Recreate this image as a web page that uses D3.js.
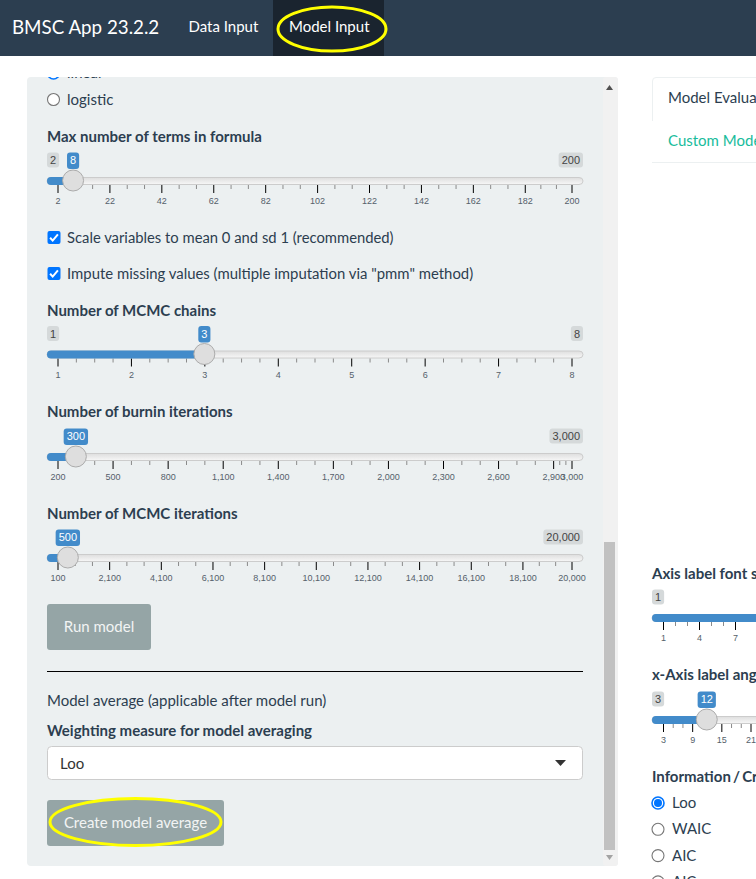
<!DOCTYPE html>
<html>
<head>
<meta charset="utf-8">
<title>BMSC App</title>
<script src="https://cdn.jsdelivr.net/npm/d3@7"></script>
<style>
html, body { margin: 0; padding: 0; background: #fff; overflow: hidden; }
svg { display: block; }
text { font-family: Lato, sans-serif; font-size: 15px; fill: #2c3e50; }
.bold { font-weight: 700; }
.tick text, .badge text { font-family: "Liberation Sans", Arial, sans-serif; }
.tick text { font-size: 9px; fill: #555f6b; }
.badge text { font-size: 11px; }
</style>
</head>
<body>
<svg id="app" width="756" height="879"></svg>
<script>
// slider values
var termsTicks = [2, 22, 42, 62, 82, 102, 122, 142, 162, 182, 200],
    chainsTicks = [1, 2, 3, 4, 5, 6, 7, 8],
    burninTicks = [200, 500, 800, 1100, 1400, 1700, 2000, 2300, 2600, 2900, 3000],
    iterTicks = [100, 2100, 4100, 6100, 8100, 10100, 12100, 14100, 16100, 18100, 20000],
    fontTicks = [1, 4, 7],
    angleTicks = [3, 9, 15, 21];

var sliderNames = ["terms", "chains", "burnin", "iter"],
    sliderValues = [8, 3, 300, 500];

var navItems = ["Data Input", "Model Input"],
    criteriaItems = ["Loo", "WAIC", "AIC", "AIC"];

var svg = d3.select("#app");

var defs = svg.append("defs");
defs.append("clipPath").attr("id", "panelClip")
    .append("rect").attr("x", 27).attr("y", 77).attr("width", 591).attr("height", 789);

var grad = defs.append("linearGradient").attr("id", "trackGrad")
    .attr("x1", 0).attr("x2", 0).attr("y1", 0).attr("y2", 1);
grad.append("stop").attr("offset", "0%").attr("stop-color", "#dedede");
grad.append("stop").attr("offset", "100%").attr("stop-color", "#f7f7f7");

function label(x, y, str, cls, color) {
    return svg.append("text")
        .attr("x", x).attr("y", y)
        .attr("class", cls || null)
        .style("fill", color || null)
        .text(str);
}

function radio(x, y, checked) {
    svg.append("circle").attr("cx", x).attr("cy", y).attr("r", 6)
        .attr("fill", "#fff")
        .attr("stroke", checked ? "#0075ff" : "#767676")
        .attr("stroke-width", checked ? 1.6 : 1.1);
    if (checked) {
        svg.append("circle").attr("cx", x).attr("cy", y).attr("r", 4).attr("fill", "#0075ff");
    }
}

function checkbox(x, y) {
    svg.append("rect").attr("x", x).attr("y", y).attr("width", 13).attr("height", 13)
        .attr("rx", 2).attr("fill", "#0075ff");
    svg.append("path")
        .attr("d", d3.line()([[x + 2.6, y + 6.8], [x + 5.2, y + 9.6], [x + 10.4, y + 3.4]]))
        .attr("fill", "none").attr("stroke", "#fff").attr("stroke-width", 2);
}

function badge(x, y, str, anchor, bg, color, h) {
    var g = svg.append("g").attr("class", "badge");
    var t = g.append("text").attr("y", y - 17).text(str).style("fill", color);
    var w = t.node().getComputedTextLength() + 6,
        left = anchor == "left" ? x : anchor == "right" ? x - w : x - w / 2;
    t.attr("x", left + 3);
    g.insert("rect", "text")
        .attr("x", left).attr("y", y - 28.5)
        .attr("width", w).attr("height", h)
        .attr("rx", 3)
        .attr("fill", bg);
}

/**
* Draw one ion.rangeSlider style input: track, fill, ticks, labels, handle
**/
function slider(opt) {
    var x = d3.scaleLinear().domain(opt.domain).range(opt.range),
        y = opt.y,
        ticks = opt.ticks;

    svg.append("rect")
        .attr("x", opt.left).attr("y", y - 3.5)
        .attr("width", opt.right - opt.left).attr("height", 7)
        .attr("rx", 4)
        .attr("fill", "url(#trackGrad)")
        .attr("stroke", "#cccccc");

    // minor ticks between the labelled ones
    var minor = [];
    d3.pairs(ticks).forEach(function(p) {
        var n = opt.minor || 3;
        for (var i = 1; i < n; i++) minor.push(p[0] + (p[1] - p[0]) * i / n);
    });

    svg.append("g")
        .attr("transform", "translate(0," + (y + 4) + ")")
        .call(d3.axisBottom(x).tickValues(minor).tickSize(4).tickFormat(""))
        .call(function(g) {
            g.select(".domain").remove();
            g.selectAll("line").attr("stroke", "#8a8a8a");
        });

    svg.append("g")
        .attr("transform", "translate(0," + (y + 4) + ")")
        .call(d3.axisBottom(x).tickValues(ticks).tickSize(8).tickPadding(5).tickFormat(d3.format(",")))
        .call(function(g) {
            g.select(".domain").remove();
            g.selectAll("line").attr("stroke", "#000");
            g.attr("font-family", null).attr("font-size", null);
        });

    var fillEnd = opt.value == null ? opt.right : x(opt.value);
    svg.append("rect")
        .attr("x", opt.left).attr("y", y - 4)
        .attr("width", fillEnd - opt.left).attr("height", 8)
        .attr("rx", 4)
        .attr("fill", "#428bca");

    // ion.rangeSlider hides the min label when the value label runs into it
    if (!opt.hideMin) badge(opt.left, y, d3.format(",")(opt.domain[0]), "left", "#d5d9da", "#444", 15);
    if (opt.showMax) badge(opt.right, y, d3.format(",")(opt.domain[1]), "right", "#d5d9da", "#444", 15);

    if (opt.value != null) {
        badge(x(opt.value), y, d3.format(",")(opt.value), "middle", "#428bca", "#fff", 16.5);
        svg.append("circle")
            .attr("cx", x(opt.value)).attr("cy", y - 0.5).attr("r", 10.5)
            .attr("fill", "#dedede").attr("stroke", "#ababab").attr("stroke-width", 1);
    }
}

// navbar
svg.append("rect").attr("width", 756).attr("height", 56).attr("fill", "#2c3e50");
svg.append("rect").attr("x", 273).attr("width", 111).attr("height", 56).attr("fill", "#1a242f");
svg.append("text").attr("x", 12).attr("y", 33.5).style("font-size", "18.75px").style("fill", "#fff").text("BMSC App 23.2.2");
svg.selectAll(".nav").data(navItems).enter().append("text")
    .attr("class", "nav")
    .attr("x", function(d, i) { return i ? 289 : 188.5; })
    .attr("y", 32)
    .style("fill", "#fff")
    .text(function(d) { return d; });

// left panel
svg.append("rect").attr("x", 27).attr("y", 77).attr("width", 591).attr("height", 789)
    .attr("rx", 4).attr("fill", "#ecf0f1");
svg.append("rect").attr("x", 603).attr("y", 77).attr("width", 15).attr("height", 789)
    .attr("rx", 3).attr("fill", "#f1f1f1");

// option scrolled out at the top of the panel
var clipped = svg.append("g").attr("clip-path", "url(#panelClip)");
clipped.append("circle").attr("cx", 53.5).attr("cy", 73).attr("r", 6)
    .attr("fill", "#fff").attr("stroke", "#0075ff").attr("stroke-width", 1.6);
clipped.append("text").attr("x", 67).attr("y", 78).text("linear");

radio(53.5, 99.5, false);
label(67, 104.5, "logistic");

label(47, 142, "Max number of terms in formula", "bold");
slider({ domain: [2, 200], range: [57.5, 571.5], left: 47, right: 583, y: 181,
    ticks: termsTicks, value: sliderValues[0], showMax: true });

checkbox(47.5, 231);
label(67, 242.5, "Scale variables to mean 0 and sd 1 (recommended)").style("font-size", "14.8px");
checkbox(47.5, 267);
label(67, 278.5, "Impute missing values (multiple imputation via \"pmm\" method)").style("font-size", "14.9px");

label(47, 316, "Number of MCMC chains", "bold");
slider({ domain: [1, 8], range: [57.5, 571.5], left: 47, right: 583, y: 354.5,
    ticks: chainsTicks, value: sliderValues[1], showMax: true, minor: 4 });

label(47, 417, "Number of burnin iterations", "bold");
slider({ domain: [200, 3000], range: [57.5, 571.5], left: 47, right: 583, y: 457,
    ticks: burninTicks, value: sliderValues[2], showMax: true, hideMin: true });

label(47, 519, "Number of MCMC iterations", "bold");
slider({ domain: [100, 20000], range: [57.5, 571.5], left: 47, right: 583, y: 558,
    ticks: iterTicks, value: sliderValues[3], showMax: true, hideMin: true });

svg.append("rect").attr("x", 47).attr("y", 604).attr("width", 104).attr("height", 46)
    .attr("rx", 3).attr("fill", "#95a5a6");
svg.append("text").attr("x", 99).attr("y", 632).attr("text-anchor", "middle").style("fill", "#f2f4f4").text("Run model");

svg.append("line").attr("x1", 47).attr("x2", 583).attr("y1", 671.5).attr("y2", 671.5).attr("stroke", "#000");

label(47, 706, "Model average (applicable after model run)");
label(47, 735.5, "Weighting measure for model averaging", "bold");

svg.append("rect").attr("x", 47.5).attr("y", 746.5).attr("width", 535).attr("height", 33)
    .attr("rx", 4).attr("fill", "#fff").attr("stroke", "#cccccc");
label(60, 768.5, "Loo", null, "#333");
svg.append("path").attr("d", d3.line()([[555, 760], [566, 760], [560.5, 766]])).attr("fill", "#333");

svg.append("rect").attr("x", 47).attr("y", 800).attr("width", 177).attr("height", 46)
    .attr("rx", 3).attr("fill", "#95a5a6");
svg.append("text").attr("x", 135.5).attr("y", 828).attr("text-anchor", "middle").style("fill", "#f2f4f4").text("Create model average");

// scrollbar
svg.append("rect").attr("x", 604).attr("y", 542).attr("width", 11).attr("height", 308).attr("fill", "#c1c1c1");
svg.append("path").attr("d", d3.line()([[606, 90], [613, 90], [609.5, 85]])).attr("fill", "#505050");
svg.append("path").attr("d", d3.line()([[606, 855], [613, 855], [609.5, 860]])).attr("fill", "#a3a3a3");

// right column, runs off the window
svg.append("path").attr("d", "M652.5,121V81a3.5,3.5 0 0 1 3.5,-3.5H756")
    .attr("fill", "none").attr("stroke", "#ecf0f1");
svg.append("line").attr("x1", 652).attr("x2", 756).attr("y1", 162.5).attr("y2", 162.5).attr("stroke", "#ecf0f1");
label(668, 103, "Model Evaluation");
label(668, 145.5, "Custom Model", null, "#18bc9c");

label(652, 579, "Axis label font size", "bold");
slider({ domain: [1, 7], range: [663, 735], left: 652, right: 790, y: 618, ticks: fontTicks });

label(652, 680, "x-Axis label angle", "bold");
slider({ domain: [3, 21], range: [663, 750.5], left: 652, right: 790, y: 720,
    ticks: angleTicks, value: 12 });

label(652, 782, "Information / Criterion", "bold").style("word-spacing", "-1.5px");
svg.selectAll(".crit").data(criteriaItems).enter().append("text")
    .attr("class", "crit")
    .attr("x", 672)
    .attr("y", function(d, i) { return 808 + i * 26.3; })
    .text(function(d) { return d; });
criteriaItems.forEach(function(d, i) { radio(658, 803 + i * 26.3, i == 0); });

// yellow annotation rings
svg.append("ellipse").attr("cx", 332).attr("cy", 29).attr("rx", 54).attr("ry", 22)
    .attr("fill", "none").attr("stroke", "#ffff00").attr("stroke-width", 3);
svg.append("ellipse").attr("cx", 135.5).attr("cy", 822).attr("rx", 85.5).attr("ry", 23.5)
    .attr("fill", "none").attr("stroke", "#ffff00").attr("stroke-width", 3);
</script>
</body>
</html>
